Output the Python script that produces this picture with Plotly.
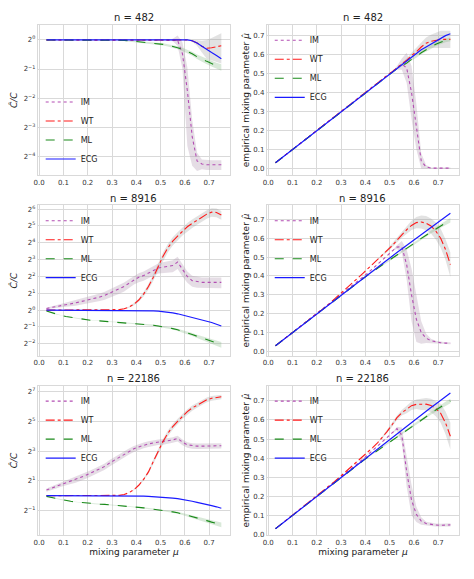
import math
import plotly.graph_objects as go

# ---------------- data ----------------
MU = [0.03, 0.05, 0.07, 0.09, 0.11, 0.13, 0.15, 0.17, 0.19, 0.21, 0.23, 0.25, 0.27, 0.29, 0.31,
      0.33, 0.35, 0.37, 0.39, 0.41, 0.43, 0.45, 0.47, 0.49, 0.51, 0.53, 0.55, 0.57, 0.59, 0.61,
      0.63, 0.65, 0.67, 0.69, 0.71, 0.73, 0.75]

SERIES = ["IM", "WT", "ML", "ECG"]
TITLES = ["n = 482", "n = 482", "n = 8916", "n = 8916", "n = 22186", "n = 22186"]
X_TICKS = [0.0, 0.1, 0.2, 0.3, 0.4, 0.5, 0.6, 0.7]
MU_TICKS = [0.0, 0.1, 0.2, 0.3, 0.4, 0.5, 0.6, 0.7]
A_TICK_EXP = [0, -1, -2, -3, -4]
C_TICK_EXP = [-2, -1, 0, 1, 2, 3, 4, 5, 6]
E_TICK_EXP = [-1, 1, 3, 5, 7]

# n = 482, C^/C
A_IM = [1.0, 1.0, 1.0, 1.0, 1.0, 1.0, 1.0, 1.0, 1.0, 1.0, 1.0, 1.0, 1.0, 1.0, 1.0, 1.0, 1.0, 1.0, 1.0, 1.0,
        1.0, 1.0, 1.0, 1.0, 1.0, 1.0, 1.0, 0.99, 0.72, 0.30, 0.10, 0.056, 0.052, 0.051, 0.051, 0.051, 0.051]
A_IM_SD = [0, 0, 0, 0, 0, 0, 0, 0, 0, 0, 0, 0, 0, 0, 0, 0, 0, 0, 0, 0,
           0, 0, 0, 0, 0, 0.005, 0.03, 0.12, 0.22, 0.22, 0.05, 0.012, 0.006, 0.006, 0.006, 0.006, 0.006]
A_WT = [1.0, 1.0, 1.0, 1.0, 1.0, 1.0, 1.0, 1.0, 1.0, 1.0, 1.0, 1.0, 1.0, 1.0, 1.0, 1.0, 1.0, 1.0, 1.0, 1.0,
        1.0, 1.0, 1.0, 1.0, 1.0, 1.0, 1.0, 1.0, 1.0, 1.0, 0.98, 0.93, 0.86, 0.82, 0.83, 0.85, 0.87]
A_WT_SD = [0, 0, 0, 0, 0, 0, 0, 0, 0, 0, 0, 0, 0, 0, 0, 0, 0, 0, 0, 0,
           0, 0, 0, 0, 0, 0, 0, 0, 0, 0.005, 0.02, 0.06, 0.12, 0.18, 0.22, 0.26, 0.30]
A_ML = [1.0, 1.0, 1.0, 1.0, 1.0, 1.0, 1.0, 1.0, 1.0, 1.0, 1.0, 1.0, 1.0, 1.0, 1.0, 0.995, 0.99, 0.98, 0.97, 0.96,
        0.95, 0.94, 0.93, 0.91, 0.90, 0.88, 0.86, 0.83, 0.80, 0.76, 0.72, 0.67, 0.63, 0.60, 0.57, 0.54, 0.52]
A_ML_SD = [0, 0, 0, 0, 0, 0, 0, 0, 0, 0, 0, 0, 0, 0, 0, 0.003, 0.005, 0.008, 0.01, 0.012,
           0.014, 0.016, 0.018, 0.02, 0.022, 0.024, 0.026, 0.028, 0.03, 0.032, 0.034, 0.036, 0.038, 0.04, 0.04, 0.04, 0.04]
A_ECG = [1.0, 1.0, 1.0, 1.0, 1.0, 1.0, 1.0, 1.0, 1.0, 1.0, 1.0, 1.0, 1.0, 1.0, 1.0, 1.0, 1.0, 1.0, 1.0, 1.0,
         1.0, 1.0, 1.0, 1.0, 1.0, 1.0, 1.0, 1.0, 1.0, 1.0, 0.98, 0.93, 0.86, 0.79, 0.74, 0.69, 0.64]

# n = 482, empirical mu
B_IM = [0.03, 0.05, 0.07, 0.09, 0.11, 0.13, 0.15, 0.17, 0.19, 0.21, 0.23, 0.25, 0.27, 0.29, 0.31, 0.33, 0.35, 0.37,
        0.39, 0.41, 0.43, 0.45, 0.47, 0.49, 0.51, 0.53, 0.55, 0.53, 0.40, 0.22, 0.04, 0.008, 0.002, 0.002, 0.002,
        0.002, 0.002]
B_IM_SD = [0, 0, 0, 0, 0, 0, 0, 0, 0, 0, 0, 0, 0, 0, 0, 0, 0, 0, 0, 0,
           0, 0, 0, 0, 0, 0.01, 0.03, 0.08, 0.14, 0.12, 0.04, 0.01, 0.003, 0.003, 0.003, 0.003, 0.003]
B_WT = [0.03, 0.05, 0.07, 0.09, 0.11, 0.13, 0.15, 0.17, 0.19, 0.21, 0.23, 0.25, 0.27, 0.29, 0.31, 0.33, 0.35, 0.37,
        0.39, 0.41, 0.43, 0.45, 0.47, 0.49, 0.51, 0.53, 0.55, 0.57, 0.595, 0.615, 0.64, 0.66, 0.67, 0.675, 0.68,
        0.68, 0.68]
B_WT_SD = [0, 0, 0, 0, 0, 0, 0, 0, 0, 0, 0, 0, 0, 0, 0, 0, 0, 0, 0, 0,
           0, 0, 0, 0, 0, 0.005, 0.008, 0.01, 0.015, 0.02, 0.025, 0.03, 0.035, 0.04, 0.045, 0.045, 0.045]
B_ML = [0.03, 0.05, 0.07, 0.09, 0.11, 0.13, 0.15, 0.17, 0.19, 0.21, 0.23, 0.25, 0.27, 0.29, 0.31, 0.33, 0.35, 0.37,
        0.39, 0.41, 0.43, 0.45, 0.47, 0.49, 0.51, 0.525, 0.54, 0.555, 0.575, 0.59, 0.61, 0.625, 0.64, 0.655, 0.665,
        0.675, 0.68]
B_ML_SD = [0, 0, 0, 0, 0, 0, 0, 0, 0, 0, 0, 0, 0, 0, 0, 0, 0, 0, 0, 0,
           0, 0, 0, 0, 0, 0.003, 0.004, 0.005, 0.006, 0.007, 0.008, 0.009, 0.01, 0.01, 0.01, 0.01, 0.01]
B_ECG = [0.03, 0.05, 0.07, 0.09, 0.11, 0.13, 0.15, 0.17, 0.19, 0.21, 0.23, 0.25, 0.27, 0.29, 0.31, 0.33, 0.35, 0.37,
         0.39, 0.41, 0.43, 0.45, 0.47, 0.49, 0.51, 0.53, 0.55, 0.57, 0.59, 0.605, 0.625, 0.64, 0.655, 0.67, 0.685,
         0.70, 0.71]

# n = 8916, C^/C
C_IM = [1.072, 1.110, 1.149, 1.206, 1.257, 1.301, 1.347, 1.414, 1.474, 1.537, 1.625, 1.717, 1.840, 2.0, 2.173,
        2.378, 2.639, 3.031, 3.482, 3.864, 4.141, 4.595, 5.098, 5.657, 5.856, 6.063, 6.276, 7.21, 5.278, 4.0,
        3.364, 3.204, 3.138, 3.138, 3.138, 3.138, 3.138]
C_IM_SD = [0.03, 0.05, 0.07, 0.09, 0.11, 0.13, 0.15, 0.17, 0.19, 0.21, 0.23, 0.26, 0.3, 0.34, 0.38, 0.42, 0.48,
           0.55, 0.62, 0.7, 0.78, 0.88, 1.0, 1.15, 1.3, 1.4, 1.5, 1.8, 1.3, 0.9, 0.75, 0.7, 0.68, 0.68, 0.68,
           0.68, 0.68]
C_WT = [1.0, 1.0, 1.0, 1.0, 1.0, 1.0, 1.0, 1.0, 1.0, 1.0, 1.0, 1.0, 1.0, 1.0, 1.007, 1.021, 1.057, 1.133, 1.275,
        1.516, 1.932, 2.639, 3.864, 6.063, 9.19, 13.0, 17.15, 21.1, 26.0, 30.9, 35.5, 40.8, 46.9, 52.0, 56.5,
        55.7, 50.2]
C_WT_SD = [0, 0, 0, 0, 0, 0, 0, 0, 0, 0, 0, 0, 0, 0, 0, 0, 0.01, 0.03, 0.06, 0.1, 0.18, 0.3, 0.5, 0.9, 1.5,
           2.2, 2.9, 3.6, 4.5, 5.4, 6.2, 7.1, 8.2, 9.0, 9.8, 9.8, 9.0]
C_ML = [0.966, 0.901, 0.841, 0.801, 0.768, 0.742, 0.717, 0.697, 0.678, 0.660, 0.651, 0.641, 0.633, 0.624, 0.616,
        0.611, 0.603, 0.595, 0.582, 0.570, 0.559, 0.547, 0.536, 0.521, 0.507, 0.486, 0.467, 0.444, 0.420, 0.392,
        0.366, 0.341, 0.319, 0.295, 0.275, 0.259, 0.241]
C_ML_SD = [0.005, 0.006, 0.007, 0.008, 0.008, 0.009, 0.009, 0.01, 0.01, 0.01, 0.01, 0.01, 0.011, 0.011, 0.011,
           0.012, 0.012, 0.012, 0.013, 0.013, 0.014, 0.014, 0.015, 0.015, 0.016, 0.017, 0.018, 0.019, 0.02, 0.021,
           0.022, 0.023, 0.024, 0.025, 0.026, 0.027, 0.028]
C_ECG = [1.0, 1.0, 1.0, 1.0, 1.0, 1.0, 1.0, 1.0, 1.0, 1.0, 1.0, 1.0, 1.0, 1.0, 1.0, 1.0, 1.0, 0.995, 0.993, 0.99,
         0.985, 0.98, 0.97, 0.96, 0.945, 0.92, 0.89, 0.86, 0.82, 0.78, 0.74, 0.70, 0.67, 0.63, 0.60, 0.56, 0.52]

# n = 8916, empirical mu
D_IM = [0.03, 0.05, 0.07, 0.09, 0.11, 0.13, 0.15, 0.17, 0.19, 0.21, 0.23, 0.25, 0.27, 0.29, 0.31, 0.33, 0.352,
        0.373, 0.394, 0.416, 0.438, 0.46, 0.483, 0.508, 0.532, 0.553, 0.555, 0.46, 0.30, 0.17, 0.1, 0.07, 0.057,
        0.05, 0.046, 0.044, 0.043]
D_IM_SD = [0, 0, 0, 0, 0, 0, 0, 0, 0, 0, 0, 0, 0, 0, 0, 0, 0, 0, 0, 0,
           0, 0, 0, 0, 0, 0.01, 0.03, 0.08, 0.14, 0.12, 0.06, 0.025, 0.01, 0.006, 0.005, 0.005, 0.005]
D_WT = [0.03, 0.05, 0.07, 0.09, 0.11, 0.13, 0.15, 0.17, 0.19, 0.21, 0.23, 0.25, 0.275, 0.297, 0.32, 0.343, 0.366,
        0.39, 0.414, 0.438, 0.462, 0.486, 0.51, 0.535, 0.56, 0.59, 0.618, 0.645, 0.668, 0.683, 0.686, 0.68, 0.665,
        0.638, 0.6, 0.54, 0.46]
D_WT_SD = [0, 0, 0, 0, 0, 0, 0, 0, 0, 0, 0, 0, 0, 0, 0, 0, 0, 0, 0, 0,
           0, 0, 0.005, 0.008, 0.01, 0.012, 0.015, 0.02, 0.025, 0.03, 0.035, 0.038, 0.04, 0.045, 0.05, 0.055, 0.065]
D_ML = [0.03, 0.05, 0.07, 0.09, 0.11, 0.13, 0.15, 0.17, 0.19, 0.21, 0.23, 0.25, 0.27, 0.29, 0.31, 0.33, 0.35,
        0.368, 0.387, 0.405, 0.423, 0.441, 0.459, 0.477, 0.495, 0.512, 0.53, 0.548, 0.565, 0.582, 0.599, 0.616,
        0.633, 0.65, 0.666, 0.681, 0.695]
D_ML_SD = [0, 0, 0, 0, 0, 0, 0, 0, 0, 0, 0, 0, 0, 0, 0, 0, 0, 0, 0, 0,
           0.002, 0.003, 0.003, 0.004, 0.004, 0.005, 0.005, 0.006, 0.006, 0.007, 0.007, 0.008, 0.008, 0.009, 0.01,
           0.011, 0.012]
D_ECG = [0.03, 0.05, 0.07, 0.09, 0.11, 0.13, 0.15, 0.17, 0.19, 0.21, 0.23, 0.25, 0.27, 0.29, 0.31, 0.33, 0.35,
         0.37, 0.39, 0.408, 0.427, 0.447, 0.466, 0.485, 0.505, 0.524, 0.543, 0.562, 0.582, 0.601, 0.62, 0.64,
         0.658, 0.677, 0.695, 0.713, 0.732]

# n = 22186, C^/C
E_IM = [1.301, 1.414, 1.537, 1.682, 1.828, 1.959, 2.114, 2.297, 2.549, 2.828, 3.138, 3.482, 3.918, 4.595, 5.278,
        6.063, 6.964, 7.890, 8.876, 9.713, 10.56, 11.16, 11.71, 12.13, 12.38, 12.82, 13.45, 14.42, 12.13, 10.70,
        10.20, 10.06, 10.06, 10.06, 10.06, 10.20, 10.27]
E_IM_SD = [0.1, 0.12, 0.14, 0.17, 0.2, 0.24, 0.28, 0.33, 0.38, 0.42, 0.47, 0.52, 0.58, 0.68, 0.78, 0.9, 1.0, 1.1,
           1.2, 1.3, 1.4, 1.45, 1.5, 1.55, 1.6, 1.65, 1.7, 1.9, 1.6, 1.4, 1.3, 1.3, 1.3, 1.3, 1.3, 1.3, 1.3]
E_WT = [1.0, 1.0, 1.0, 1.0, 1.0, 1.0, 1.0, 1.0, 1.0, 1.0, 1.0, 1.0, 1.0, 1.0, 1.0, 1.014, 1.057, 1.149, 1.320,
        1.625, 2.144, 3.031, 4.925, 8.0, 12.55, 18.38, 25.1, 32.0, 40.8, 50.2, 59.7, 68.6, 78.8, 87.4, 93.7,
        98.4, 100.4]
E_WT_SD = [0, 0, 0, 0, 0, 0, 0, 0, 0, 0, 0, 0, 0, 0, 0, 0, 0, 0.01, 0.03, 0.06, 0.12, 0.25, 0.5, 1.0, 1.6, 2.4,
           3.2, 4.0, 5.0, 6.0, 7.0, 8.0, 9.0, 9.6, 10.0, 10.4, 10.6]
E_ML = [0.966, 0.920, 0.871, 0.824, 0.790, 0.768, 0.747, 0.727, 0.707, 0.693, 0.683, 0.674, 0.665, 0.655, 0.646,
        0.633, 0.620, 0.607, 0.590, 0.578, 0.566, 0.551, 0.536, 0.521, 0.507, 0.490, 0.470, 0.451, 0.426, 0.403,
        0.379, 0.356, 0.334, 0.312, 0.291, 0.274, 0.257]
E_ML_SD = [0.005, 0.006, 0.007, 0.008, 0.008, 0.009, 0.009, 0.01, 0.01, 0.01, 0.01, 0.01, 0.011, 0.011, 0.011,
           0.012, 0.012, 0.012, 0.013, 0.013, 0.014, 0.014, 0.015, 0.015, 0.016, 0.017, 0.018, 0.019, 0.02, 0.021,
           0.022, 0.023, 0.024, 0.025, 0.026, 0.027, 0.028]
E_ECG = [1.0, 1.0, 1.0, 1.0, 1.0, 1.0, 1.0, 1.0, 1.0, 1.0, 1.0, 1.0, 1.0, 0.995, 0.993, 0.99, 0.99, 0.985, 0.98,
         0.98, 0.975, 0.965, 0.955, 0.945, 0.935, 0.915, 0.895, 0.87, 0.84, 0.80, 0.77, 0.73, 0.70, 0.66, 0.63,
         0.595, 0.555]

# n = 22186, empirical mu
F_IM = [0.03, 0.05, 0.07, 0.09, 0.11, 0.13, 0.15, 0.17, 0.19, 0.21, 0.23, 0.25, 0.27, 0.29, 0.31, 0.33, 0.352,
        0.373, 0.395, 0.417, 0.44, 0.463, 0.487, 0.51, 0.532, 0.555, 0.52, 0.33, 0.18, 0.105, 0.07, 0.057, 0.052,
        0.049, 0.048, 0.049, 0.05]
F_IM_SD = [0, 0, 0, 0, 0, 0, 0, 0, 0, 0, 0, 0, 0, 0, 0, 0, 0, 0, 0, 0,
           0, 0, 0, 0, 0, 0.01, 0.04, 0.08, 0.08, 0.04, 0.02, 0.01, 0.008, 0.008, 0.008, 0.008, 0.008]
F_WT = [0.03, 0.05, 0.07, 0.09, 0.11, 0.13, 0.15, 0.17, 0.19, 0.21, 0.23, 0.25, 0.274, 0.296, 0.318, 0.34, 0.362,
        0.384, 0.406, 0.43, 0.455, 0.48, 0.508, 0.54, 0.575, 0.612, 0.638, 0.655, 0.675, 0.682, 0.683, 0.683,
        0.676, 0.66, 0.635, 0.585, 0.515]
F_WT_SD = [0, 0, 0, 0, 0, 0, 0, 0, 0, 0, 0, 0, 0, 0, 0, 0, 0, 0, 0, 0,
           0, 0, 0.005, 0.008, 0.01, 0.012, 0.015, 0.02, 0.022, 0.025, 0.03, 0.032, 0.035, 0.04, 0.05, 0.06, 0.07]
F_ML = [0.03, 0.05, 0.07, 0.09, 0.11, 0.13, 0.15, 0.17, 0.19, 0.21, 0.23, 0.25, 0.27, 0.29, 0.31, 0.33, 0.35,
        0.368, 0.386, 0.404, 0.422, 0.44, 0.458, 0.476, 0.494, 0.512, 0.53, 0.547, 0.565, 0.583, 0.60, 0.618,
        0.635, 0.652, 0.668, 0.685, 0.70]
F_ML_SD = [0, 0, 0, 0, 0, 0, 0, 0, 0, 0, 0, 0, 0, 0, 0, 0, 0, 0, 0, 0,
           0.002, 0.003, 0.003, 0.004, 0.004, 0.005, 0.005, 0.006, 0.006, 0.007, 0.007, 0.008, 0.008, 0.009, 0.01,
           0.011, 0.012]
F_ECG = [0.03, 0.05, 0.07, 0.09, 0.11, 0.13, 0.15, 0.17, 0.19, 0.21, 0.23, 0.25, 0.27, 0.29, 0.31, 0.33, 0.35,
         0.37, 0.39, 0.41, 0.43, 0.45, 0.47, 0.49, 0.508, 0.528, 0.547, 0.567, 0.586, 0.606, 0.625, 0.645, 0.665,
         0.684, 0.703, 0.722, 0.742]

# ---------------- styles ----------------
FONT = "DejaVu Sans"
COLORS = {"IM": "#b34db3", "WT": "#ff1a1a", "ML": "#1a8a1a", "ECG": "#1a1aff"}
DASH = {"IM": "dot", "WT": "dashdot", "ML": "dash", "ECG": "solid"}
WIDTH = {"IM": 1.1, "WT": 1.1, "ML": 1.1, "ECG": 1.2}
BAND = {"IM": "rgba(175,150,175,0.32)", "WT": "rgba(150,150,150,0.28)", "ML": "rgba(120,175,120,0.28)"}
GRID = "#d9d9d9"
TICKC = "#333333"

LOG2 = math.log10(2)

panels = [
    dict(data={"IM": (A_IM, A_IM_SD), "WT": (A_WT, A_WT_SD), "ML": (A_ML, A_ML_SD), "ECG": (A_ECG, None)},
         log=True, exps=A_TICK_EXP, yr=(-4.66, 0.52), legend="bottom"),
    dict(data={"IM": (B_IM, B_IM_SD), "WT": (B_WT, B_WT_SD), "ML": (B_ML, B_ML_SD), "ECG": (B_ECG, None)},
         log=False, yr=(-0.037, 0.757), legend="top"),
    dict(data={"IM": (C_IM, C_IM_SD), "WT": (C_WT, C_WT_SD), "ML": (C_ML, C_ML_SD), "ECG": (C_ECG, None)},
         log=True, exps=C_TICK_EXP, yr=(-2.72, 6.23), legend="top"),
    dict(data={"IM": (D_IM, D_IM_SD), "WT": (D_WT, D_WT_SD), "ML": (D_ML, D_ML_SD), "ECG": (D_ECG, None)},
         log=False, yr=(-0.024, 0.775), legend="top"),
    dict(data={"IM": (E_IM, E_IM_SD), "WT": (E_WT, E_WT_SD), "ML": (E_ML, E_ML_SD), "ECG": (E_ECG, None)},
         log=True, exps=E_TICK_EXP, yr=(-2.67, 7.4), legend="top"),
    dict(data={"IM": (F_IM, F_IM_SD), "WT": (F_WT, F_WT_SD), "ML": (F_ML, F_ML_SD), "ECG": (F_ECG, None)},
         log=False, yr=(-0.005, 0.78), legend="top"),
]

W, H = 474, 579
COLS = [(34, 228), (265, 459)]
ROWS = [(23, 175), (205, 357), (387, 538)]
TITLE_Y = [16, 198, 380]

fig = go.Figure()
layout = dict(
    width=W, height=H, margin=dict(l=0, r=0, t=0, b=0),
    paper_bgcolor="white", plot_bgcolor="white",
    font=dict(family=FONT, size=8, color="#222222"),
    annotations=[],
)


def sup(k):
    return "2<sup>" + str(k).replace("-", "\u2212") + "</sup>"


for k, p in enumerate(panels):
    r, c = divmod(k, 2)
    idx = "" if k == 0 else str(k + 1)
    xa, ya = "x" + idx, "y" + idx
    leg = "legend" if k == 0 else "legend" + str(k + 1)
    x0, x1 = COLS[c]
    y0, y1 = ROWS[r]
    xdom = [x0 / W, x1 / W]
    ydom = [1 - y1 / H, 1 - y0 / H]

    for name in SERIES:
        vals, sd = p["data"][name]
        if sd is None:
            continue
        upper = [v + s for v, s in zip(vals, sd)]
        lower = [v - s for v, s in zip(vals, sd)]
        fig.add_trace(go.Scatter(x=MU + MU[::-1], y=upper + lower[::-1], fill="toself",
                                 fillcolor=BAND[name], line=dict(width=0), mode="lines",
                                 hoverinfo="skip", showlegend=False, xaxis=xa, yaxis=ya))
    for name in SERIES:
        vals, _ = p["data"][name]
        fig.add_trace(go.Scatter(x=MU, y=vals, mode="lines", name=name,
                                 line=dict(color=COLORS[name], dash=DASH[name], width=WIDTH[name]),
                                 xaxis=xa, yaxis=ya, legend=leg))

    xaxis = dict(domain=xdom, anchor=ya, range=[-0.006, 0.786], tickvals=X_TICKS,
                 ticktext=["%.1f" % v for v in X_TICKS], showgrid=True, gridcolor=GRID, gridwidth=1,
                 showline=True, mirror=True, linecolor=GRID, linewidth=1, zeroline=False, ticks="",
                 tickfont=dict(size=7, color=TICKC, family=FONT))
    if r == 2:
        xaxis["title"] = dict(text="mixing parameter <i>\u03bc</i>", font=dict(size=9, color="#222222"),
                              standoff=2)
    layout["xaxis" + idx] = xaxis

    yaxis = dict(domain=ydom, anchor=xa, showgrid=True, gridcolor=GRID, gridwidth=1,
                 showline=True, mirror=True, linecolor=GRID, linewidth=1, zeroline=False, ticks="",
                 tickfont=dict(size=7, color=TICKC, family=FONT))
    if p["log"]:
        yaxis.update(type="log", range=[p["yr"][0] * LOG2, p["yr"][1] * LOG2],
                     tickvals=[2.0 ** e for e in p["exps"]], ticktext=[sup(e) for e in p["exps"]],
                     title=dict(text="<i>\u0108/C</i>", font=dict(size=9, color="#222222"), standoff=4))
    else:
        yaxis.update(range=list(p["yr"]), tickvals=MU_TICKS, ticktext=["%.1f" % v for v in MU_TICKS],
                     title=dict(text="empirical mixing parameter <i>\u03bc\u0302</i>",
                                font=dict(size=9, color="#222222"), standoff=2))
    layout["yaxis" + idx] = yaxis

    if p["legend"] == "bottom":
        lg = dict(x=(x0 + 3) / W, y=1 - (y1 - 2) / H, xanchor="left", yanchor="bottom")
    else:
        lg = dict(x=(x0 + 3) / W, y=1 - (y0 + 1) / H, xanchor="left", yanchor="top")
    lg.update(bgcolor="rgba(0,0,0,0)", borderwidth=0, font=dict(size=8, color="#222222", family=FONT),
              tracegroupgap=0, itemwidth=30)
    layout[leg] = lg

    layout["annotations"].append(dict(text=TITLES[k], x=(x0 + x1) / 2 / W, y=1 - TITLE_Y[r] / H,
                                      xref="paper", yref="paper", xanchor="center", yanchor="middle",
                                      showarrow=False, font=dict(size=10, color="#222222", family=FONT)))

fig.update_layout(**layout)
fig.write_html("out.html")
